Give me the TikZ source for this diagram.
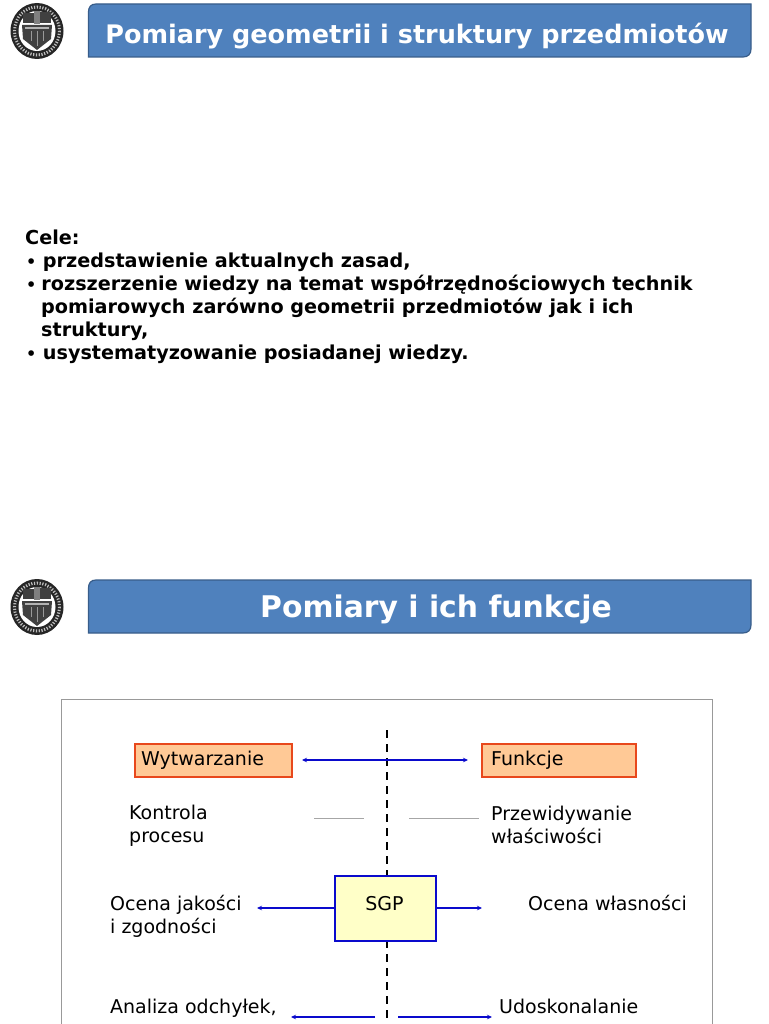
\documentclass[tikz,border=0pt]{standalone}
\usepackage{fontspec}
\setmainfont{DejaVu Sans}
\usetikzlibrary{arrows.meta}
\definecolor{hdr}{HTML}{4F81BD}
\definecolor{hdrl}{HTML}{385D8A}
\definecolor{orl}{HTML}{E8481C}
\definecolor{orf}{HTML}{FFC996}
\definecolor{bl}{HTML}{0A0ACC}
\definecolor{yel}{HTML}{FFFFC8}
\tikzset{
 x=1pt,y=-1pt,
 hdrbox/.style={fill=hdr,draw=hdrl,line width=1.2pt},
 hdrtxt/.style={text=white,font=\bfseries\fontsize{25.5}{28}\selectfont,inner sep=0pt},
 body/.style={font=\bfseries\fontsize{19.2}{24}\selectfont,inner sep=0pt,anchor=base west},
 lab/.style={font=\fontsize{19}{23.5}\selectfont,inner sep=0pt,anchor=base west,align=left},
 orangebox/.style={draw=orl,fill=orf,line width=2pt},
 arr/.style={draw=bl,line width=1.2pt,-{Stealth[length=5pt,width=4.5pt]}},
 arrb/.style={draw=bl,line width=1.2pt,{Stealth[length=5pt,width=4.5pt]}-{Stealth[length=5pt,width=4.5pt]}},
 grayl/.style={draw=gray!70,line width=0.8pt},
}
\newcommand{\blt}{{\fontsize{16}{16}\selectfont •}}
\newcommand{\sealmark}[2]{%
 \fill[black!85] (#1,#2) ellipse [x radius=26.5,y radius=28];
 \draw[white!75!black,line width=3pt,dash pattern=on 1.2pt off 1.6pt] (#1,#2) ellipse [x radius=22.5,y radius=24];
 \fill[white] (#1,#2) ellipse [x radius=18.5,y radius=20];
 \fill[black!75] (#1-15,#2-6) -- (#1+15,#2-6) -- (#1+14,#2+8) -- (#1,#2+19) -- (#1-14,#2+8) -- cycle;
 \fill[white!70!black] (#1-12,#2-4) rectangle (#1+12,#2-2);
 \draw[white!60!black,line width=1pt] (#1,#2) -- (#1,#2+15) (#1-6,#2) -- (#1-6,#2+10) (#1+6,#2) -- (#1+6,#2+10);
 \fill[black!75] (#1-14,#2-18) rectangle (#1-3,#2-8);
 \fill[black!75] (#1+3,#2-19) rectangle (#1+14,#2-8);
 \fill[black!50] (#1-3,#2-20) rectangle (#1+3,#2-7);
}
\begin{document}
\begin{tikzpicture}
\useasboundingbox (0,0) rectangle (768,1024);
\clip (0,0) rectangle (768,1024);
\fill[white] (0,0) rectangle (768,1024);
\sealmark{37}{31}
\sealmark{37}{607}
\draw[hdrbox] (88.5,57) -- (88.5,12) .. controls (88.5,7) and (91,4) .. (96,4) -- (751,4) -- (751,49) .. controls (751,54) and (748,57) .. (743,57) -- cycle;
\node[hdrtxt,anchor=base] (t1) at (417,44) {Pomiary geometrii i struktury przedmiotów};
\draw[hdrbox] (88.5,633) -- (88.5,588) .. controls (88.5,583) and (91,580) .. (96,580) -- (751,580) -- (751,625) .. controls (751,630) and (748,633) .. (743,633) -- cycle;
\node[hdrtxt,anchor=base,font=\bfseries\fontsize{29.8}{32}\selectfont] (t2) at (436,617) {Pomiary i ich funkcje};
\node[body] (c0) at (25,244) {Cele:};
\node[body] (c1) at (26,267) {\blt\hspace{6.5pt}przedstawienie aktualnych zasad,};
\node[body] (c2) at (26,290) {\blt\hspace{5pt}rozszerzenie wiedzy na temat współrzędnościowych technik};
\node[body] (c3) at (41,313) {pomiarowych zarówno geometrii przedmiotów jak i ich};
\node[body] (c4) at (41,336) {struktury,};
\node[body] (c5) at (26,359) {\blt\hspace{6.5pt}usystematyzowanie posiadanej wiedzy.};
\draw[gray!80,fill=white,line width=0.8pt] (61,699.5) rectangle (712.5,1040);
\coordinate (dtop) at (387,730);
\coordinate (dbot) at (387,1030);
\draw[black,line width=1.6pt,dash pattern=on 8pt off 6pt] (dtop) -- (dbot);
\node[orangebox,minimum width=157,minimum height=33,inner sep=0pt,anchor=north west] (w) at (133.5,742.5) {};
\node[lab] (wt) at (141,765) {Wytwarzanie};
\node[orangebox,minimum width=154,minimum height=33,inner sep=0pt,anchor=north west] (f) at (481,742.5) {};
\node[lab] (ft) at (491,765) {Funkcje};
\coordinate (al) at (302,760); \coordinate (ar) at (468,760);
\draw[arrb] (al) -- (ar);
\node[lab] (k1) at (129,819) {Kontrola};
\node[lab] (k2) at (129,842) {procesu};
\node[lab] (p1) at (491,820) {Przewidywanie};
\node[lab] (p2) at (491,843) {właściwości};
\coordinate (g1) at (314,818); \coordinate (g2) at (364,818);
\coordinate (g3) at (409,818); \coordinate (g4) at (479,818);
\draw[grayl] (g1) -- (g2);
\draw[grayl] (g3) -- (g4);
\node[draw=bl,fill=yel,line width=2pt,minimum width=101,minimum height=65,inner sep=0pt,anchor=north west] (s) at (334,875) {};
\node[font=\fontsize{19}{20}\selectfont,inner sep=0pt,anchor=base] (st) at (384.5,910) {SGP};
\node[lab] (o1) at (110,910) {Ocena jakości};
\node[lab] (o2) at (110,933) {i zgodności};
\node[lab] (o3) at (528,910) {Ocena własności};
\coordinate (ol) at (257,908); \coordinate (or) at (482,908);
\draw[arr] (s.west |- ol) -- (ol);
\draw[arr] (s.east |- or) -- (or);
\node[lab] (a1) at (110,1013) {Analiza odchyłek,};
\node[lab] (u1) at (499,1013) {Udoskonalanie};
\coordinate (b1) at (375,1017); \coordinate (b2) at (291,1017);
\coordinate (b3) at (398,1017); \coordinate (b4) at (492,1017);
\draw[arr] (b1) -- (b2);
\draw[arr] (b3) -- (b4);
\end{tikzpicture}
\end{document}
